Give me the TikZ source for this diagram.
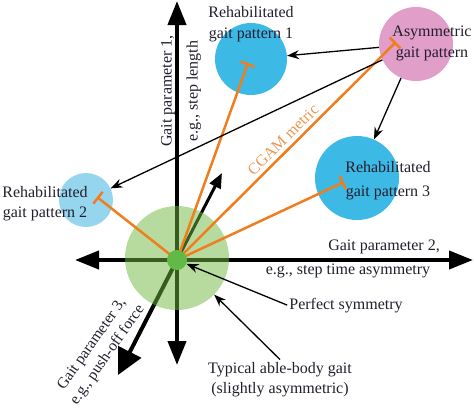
\documentclass[tikz,border=0pt]{standalone}
\usepackage{fontspec}
\setmainfont{Liberation Serif}
\usetikzlibrary{arrows.meta}
\definecolor{blueC}{RGB}{61,185,230}
\definecolor{lblueC}{RGB}{150,213,238}
\definecolor{pinkC}{RGB}{224,158,200}
\definecolor{greenC}{RGB}{112,184,62}
\definecolor{dotC}{RGB}{98,185,70}
\definecolor{orangeC}{RGB}{240,125,30}
\definecolor{cgamC}{RGB}{236,150,80}
\definecolor{textC}{RGB}{35,30,45}
\begin{document}
\begin{tikzpicture}[x=1pt,y=-1pt,
  lbl/.style={font=\fontsize{16}{21}\selectfont, text=textC, inner sep=0pt, align=center},
  axisline/.style={line width=4pt, black},
  bothtips/.style={{Triangle[length=24pt,width=18pt]}-{Triangle[length=24pt,width=18pt]}},
  conn/.style={line width=1.3pt, -{Stealth[length=12pt,width=9pt,inset=4pt]}},
  metric/.style={line width=2.5pt, orangeC, -{Bar[width=15pt]}},
  blob/.style={circle, inner sep=0pt, draw=none}]
\useasboundingbox (0,0) rectangle (474,413);

% coordinates
\coordinate (O) at (177,260);
\coordinate (ax1top) at (177,1);
\coordinate (ax1bot) at (177,365);
\coordinate (ax2l) at (75,260);
\coordinate (ax2r) at (473,260);
\coordinate (ax3l) at (118,375);
\coordinate (ax3u) at (222,173);

% axes
\draw[axisline, bothtips] (ax1bot) -- (ax1top);
\draw[axisline, bothtips] (ax2l) -- (ax2r);
\draw[axisline, -{Triangle[length=26pt,width=25pt]}] (O) -- (ax3l);
\draw[line width=3pt, -{Triangle[length=15pt,width=12pt]}] (O) -- (ax3u);

% typical able-body region
\node[blob, fill=greenC, fill opacity=0.5, minimum size=104pt] (able) at (177,258) {};

% gait pattern circles
\node[blob, fill=blueC, minimum size=72pt] (r1) at (251,59) {};
\node[blob, fill=blueC, minimum size=84pt] (r3) at (357,178) {};
\node[blob, fill=lblueC, minimum size=54pt] (r2) at (86,200) {};
\node[blob, fill=pinkC, minimum size=74pt] (asym) at (416,44) {};

% metric end points
\coordinate (t1) at (248,63);
\coordinate (ta) at (396,42);
\coordinate (t3) at (344,182);
\coordinate (t2) at (97,197);

% CGAM metric lines
\draw[metric] (O) -- (t1);
\draw[metric] (O) -- (ta);
\draw[metric] (O) -- (t3);
\draw[metric] (O) -- (t2);

% perfect symmetry dot
\node[blob, fill=dotC, minimum size=20pt] (dot) at (O) {};

% labels
\node[lbl] (lr1) at (251,24) {Rehabilitated\\gait pattern 1};
\node[lbl] (lasym) at (432,43) {Asymmetric\\gait pattern};
\node[lbl, font=\fontsize{16}{24}\selectfont] (lr3) at (388,181) {Rehabilitated\\gait pattern 3};
\node[lbl, font=\fontsize{16}{20}\selectfont] (lr2) at (45,204) {Rehabilitated\\gait pattern 2};
\node[lbl, font=\fontsize{16}{26}\selectfont, rotate=90] (l1) at (181,91) {Gait parameter 1,\\e.g., step length};
\node[lbl, anchor=base] (l2a) at (384,250) {Gait parameter 2,};
\node[lbl, anchor=base] (l2b) at (348,274) {e.g., step time asymmetry};
\node[lbl, font=\fontsize{15.5}{19}\selectfont, rotate=55] (l3) at (100,350) {Gait parameter 3,\\e.g., push-off force};
\node[lbl, text=cgamC, rotate=45] (cgam) at (283,140) {CGAM metric};
\node[lbl, anchor=base, inner sep=2pt] (ps) at (346,309) {Perfect symmetry};
\node[lbl, font=\fontsize{16}{20}\selectfont, inner sep=3pt] (typ) at (280,380) {Typical able-body gait\\(slightly asymmetric)};

% connectors
\draw[conn] (asym) -- (r1);
\draw[conn] (asym) -- (r2);
\draw[conn] (asym) -- (r3);
\draw[conn] (ps.west) -- (dot);
\draw[conn] (typ.north) -- (able);
\end{tikzpicture}
\end{document}
